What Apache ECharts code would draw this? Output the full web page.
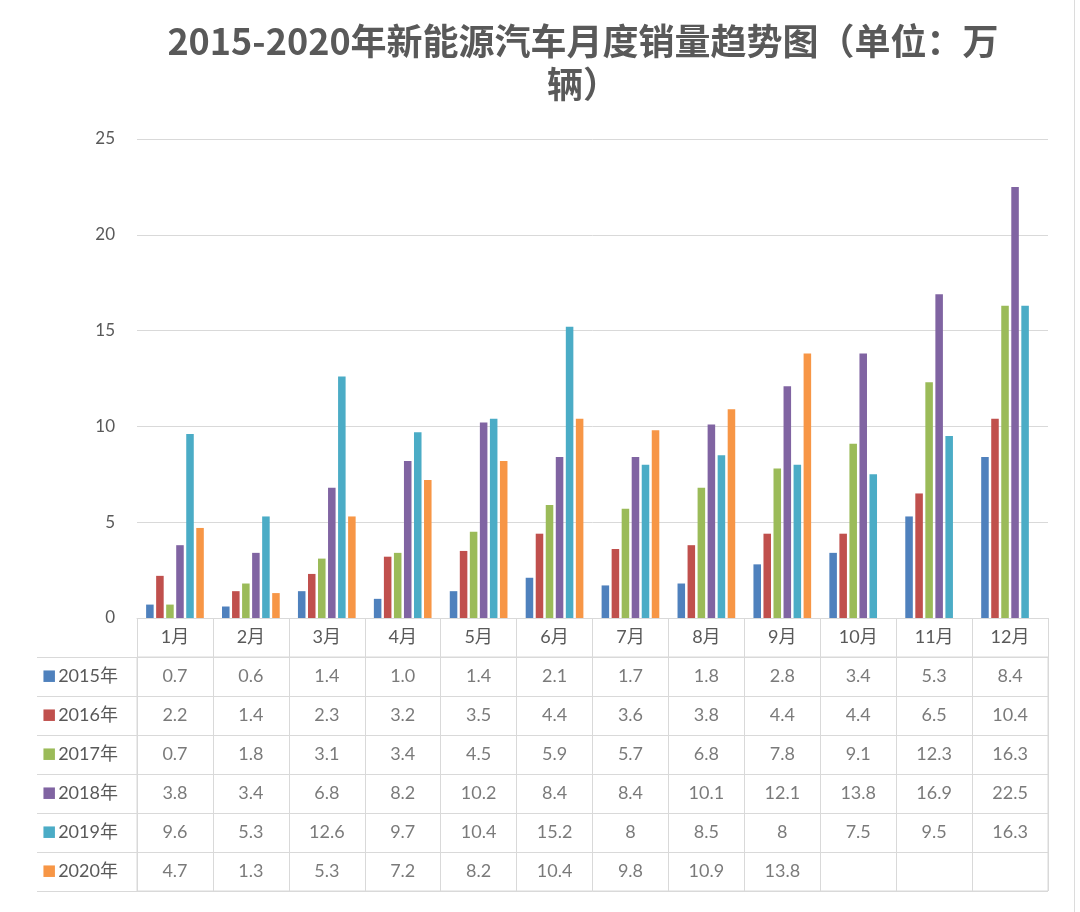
<!DOCTYPE html>
<html>
<head>
<meta charset="utf-8">
<script src="https://cdn.jsdelivr.net/npm/echarts@6/dist/echarts.min.js"></script>
<style>
html,body{margin:0;padding:0;background:#fff;}
#main{width:1080px;height:912px;}
</style>
</head>
<body>
<div id="main"></div>
<script>
var months = ['1月','2月','3月','4月','5月','6月','7月','8月','9月','10月','11月','12月'];
var years = ['2015年','2016年','2017年','2018年','2019年','2020年'];
var s2015 = [0.7,0.6,1.4,1.0,1.4,2.1,1.7,1.8,2.8,3.4,5.3,8.4];
var s2016 = [2.2,1.4,2.3,3.2,3.5,4.4,3.6,3.8,4.4,4.4,6.5,10.4];
var s2017 = [0.7,1.8,3.1,3.4,4.5,5.9,5.7,6.8,7.8,9.1,12.3,16.3];
var s2018 = [3.8,3.4,6.8,8.2,10.2,8.4,8.4,10.1,12.1,13.8,16.9,22.5];
var s2019 = [9.6,5.3,12.6,9.7,10.4,15.2,8,8.5,8,7.5,9.5,16.3];
var s2020 = [4.7,1.3,5.3,7.2,8.2,10.4,9.8,10.9,13.8,null,null,null];
var yTicks = [0,5,10,15,20,25];
var colors = ['#4F81BD','#C0504D','#9BBB59','#8064A2','#4BACC6','#F79646'];
// 2019 row shows whole numbers without decimals (Excel General format)
var rowFixed = [true,true,true,true,false,true];

var allSeries = [s2015,s2016,s2017,s2018,s2019,s2020];
var textColor = '#595959';
var lineColor = '#d9d9d9';
var numFont = "Lato, 'Noto Sans CJK SC', sans-serif";

var chart = echarts.init(document.getElementById('main'));

var barSeries = allSeries.map(function(arr, i){
  return {
    name: years[i], type: 'bar', xAxisIndex: 0, yAxisIndex: 0,
    data: arr, barGap: '33%', barCategoryGap: '24%',
    itemStyle: {color: colors[i]}, silent: true
  };
});

var cells = [];
allSeries.forEach(function(arr, r){
  arr.forEach(function(v, m){
    if (v !== null && v !== undefined) cells.push([m, r, v]);
  });
});

var rich = {t: {color: textColor, fontSize: 18, fontFamily: numFont, padding:[0,0,0,2]}};
colors.forEach(function(c, i){ rich['c'+i] = {color: c, fontSize: 15, fontFamily: 'DejaVu Sans'}; });

var option = {
  backgroundColor: '#fff',
  animation: false,
  color: colors,
  title: {
    text: '2015-2020年新能源汽车月度销量趋势图（单位：万\n辆）',
    left: 578, top: 15, textAlign: 'center',
    textStyle: {fontSize: 36, fontWeight: 'bold', color: textColor, lineHeight: 43,
      fontFamily: "'Noto Sans CJK SC', sans-serif"}
  },
  graphic: [{
    type: 'line', silent: true,
    shape: {x1: 1074.5, y1: 0, x2: 1074.5, y2: 912},
    style: {stroke: '#dcdcdc', lineWidth: 1}
  }],
  grid: [
    {left: 137, right: 32, top: 139, bottom: 294},
    {left: 137, right: 32, top: 657, bottom: 21, show: true, borderColor: lineColor, borderWidth: 1}
  ],
  xAxis: [
    {type: 'category', gridIndex: 0, data: months,
      axisLine: {show: true, lineStyle: {color: lineColor, width: 1}},
      axisTick: {show: true, interval: 0, length: 39, alignWithLabel: false, lineStyle: {color: lineColor}},
      axisLabel: {interval: 0, margin: 10, fontSize: 18, color: textColor, fontFamily: numFont},
      splitLine: {show: false}},
    {type: 'category', gridIndex: 1, data: months,
      axisLine: {show: false}, axisTick: {show: false}, axisLabel: {show: false},
      splitLine: {show: true, interval: 0, lineStyle: {color: lineColor}}}
  ],
  yAxis: [
    {type: 'value', gridIndex: 0, min: 0, max: 25, interval: 5,
      axisLine: {show: false}, axisTick: {show: false},
      axisLabel: {margin: 22, fontSize: 17, color: textColor, fontFamily: numFont,
        formatter: function(v){ return yTicks.indexOf(v) >= 0 ? String(v) : ''; }},
      splitLine: {show: true, lineStyle: {color: lineColor}}},
    {type: 'category', gridIndex: 1, data: years, inverse: true,
      axisLine: {show: false},
      axisTick: {show: true, interval: 0, length: 100, alignWithLabel: false, lineStyle: {color: lineColor}},
      axisLabel: {align: 'left', margin: 95, interval: 0,
        formatter: function(v, idx){ return '{c' + idx + '|■}{t|' + v + '}'; },
        rich: rich},
      splitLine: {show: true, interval: 0, lineStyle: {color: lineColor}}},
    {type: 'category', gridIndex: 1, data: years, inverse: true, offset: 100,
      axisLine: {show: true, lineStyle: {color: lineColor}},
      axisTick: {show: false}, axisLabel: {show: false}, splitLine: {show: false}}
  ],
  series: barSeries.concat([{
    type: 'scatter', xAxisIndex: 1, yAxisIndex: 1, data: cells,
    symbol: 'rect', symbolSize: 1, itemStyle: {color: 'rgba(0,0,0,0)'}, silent: true,
    label: {show: true, position: 'inside', color: textColor, fontSize: 18, fontFamily: numFont,
      formatter: function(p){
        var v = p.value[2], r = p.value[1];
        return rowFixed[r] ? v.toFixed(1) : String(v);
      }}
  }])
};
chart.setOption(option);
</script>
</body>
</html>
